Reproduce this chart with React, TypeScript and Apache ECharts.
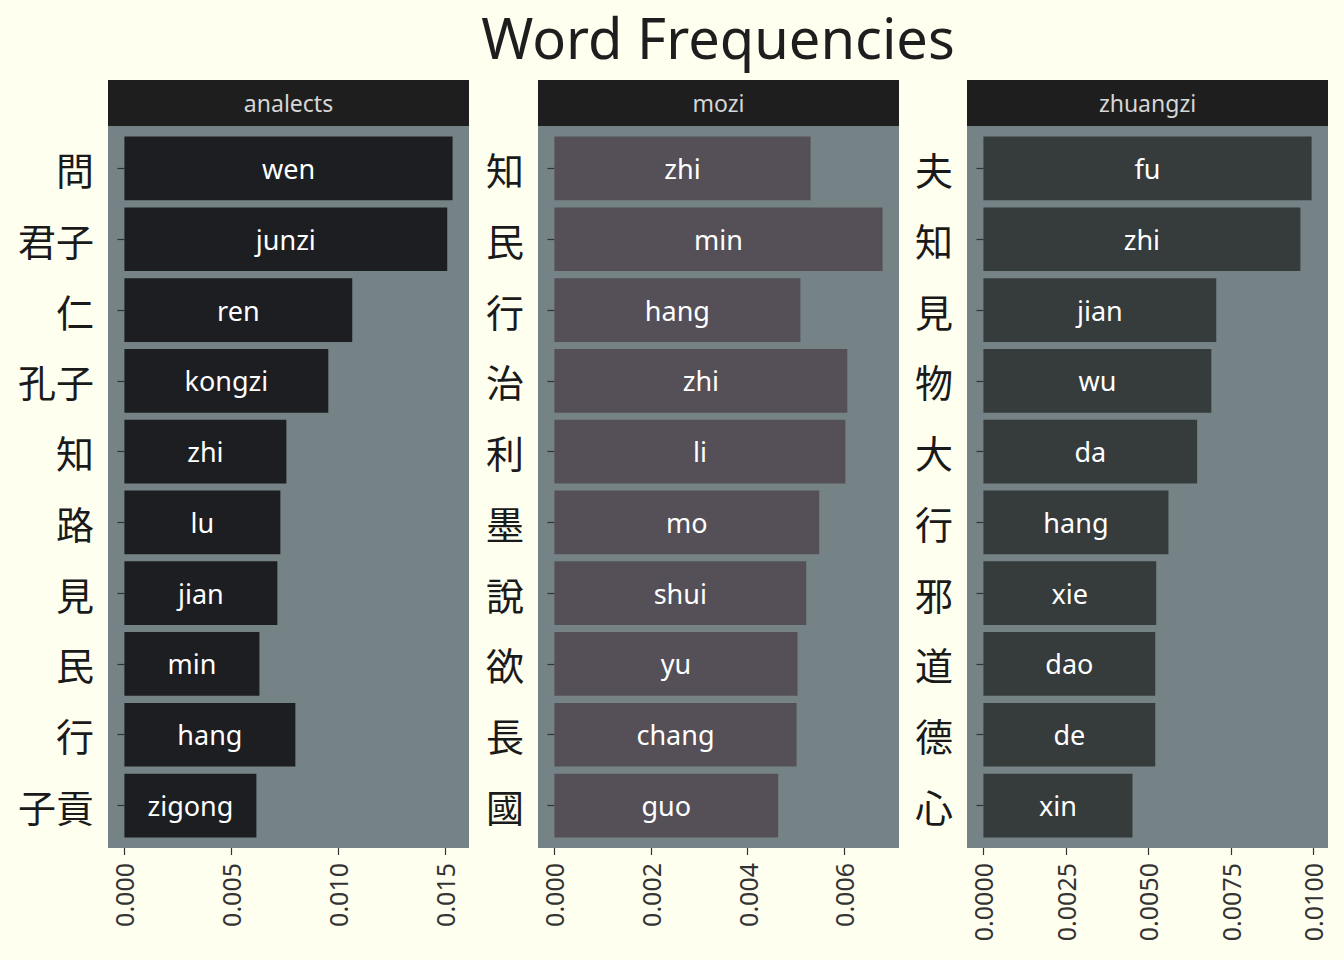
import React, { useEffect, useRef } from "react";
import * as echarts from "echarts";

// ---------- data ----------
const panels = ["analects", "mozi", "zhuangzi"];

const analectsWords = ["問", "君子", "仁", "孔子", "知", "路", "見", "民", "行", "子貢"];
const analectsPinyin = ["wen", "junzi", "ren", "kongzi", "zhi", "lu", "jian", "min", "hang", "zigong"];
const analectsFreq = [0.01534, 0.01509, 0.01065, 0.00953, 0.00757, 0.00729, 0.00715, 0.00631, 0.00799, 0.00617];

const moziWords = ["知", "民", "行", "治", "利", "墨", "說", "欲", "長", "國"];
const moziPinyin = ["zhi", "min", "hang", "zhi", "li", "mo", "shui", "yu", "chang", "guo"];
const moziFreq = [0.0053, 0.00679, 0.00509, 0.00606, 0.00602, 0.00548, 0.00521, 0.00503, 0.00501, 0.00463];

const zhuangziWords = ["夫", "知", "見", "物", "大", "行", "邪", "道", "德", "心"];
const zhuangziPinyin = ["fu", "zhi", "jian", "wu", "da", "hang", "xie", "dao", "de", "xin"];
const zhuangziFreq = [0.00995, 0.00961, 0.00706, 0.00691, 0.00648, 0.00561, 0.00524, 0.00521, 0.00521, 0.00452];

const analectsTicks = [0, 0.005, 0.01, 0.015];
const moziTicks = [0, 0.002, 0.004, 0.006];
const zhuangziTicks = [0, 0.0025, 0.005, 0.0075, 0.01];
const tickDecimals = [3, 3, 4];

const barColors = ["#1c1e21", "#555057", "#363b3c"];

// ---------- layout ----------
const PANEL_LEFT = [108, 538, 967];
const PANEL_W = 361;
const STRIP_TOP = 80;
const PANEL_TOP = 126;
const PANEL_BOTTOM = 848;
const N_CAT = 10;
const UNIT = (PANEL_BOTTOM - PANEL_TOP) / (N_CAT + 0.2);
const INSET = UNIT * 0.1;

const LATIN = "'Noto Sans', 'Noto Sans CJK JP', sans-serif";
const CJK = "'Noto Sans CJK JP', 'Noto Sans', sans-serif";

export default function App() {
  const ref = useRef<HTMLDivElement>(null);

  useEffect(() => {
    if (!ref.current) return;
    const chart = echarts.init(ref.current, undefined, { renderer: "svg" });

    const words = [analectsWords, moziWords, zhuangziWords];
    const pinyin = [analectsPinyin, moziPinyin, zhuangziPinyin];
    const freqs = [analectsFreq, moziFreq, zhuangziFreq];
    const ticks = [analectsTicks, moziTicks, zhuangziTicks];

    const grids = PANEL_LEFT.map((l) => ({
      left: l,
      width: PANEL_W,
      top: PANEL_TOP + INSET,
      height: PANEL_BOTTOM - PANEL_TOP - 2 * INSET,
      containLabel: false,
    }));

    const xAxes = PANEL_LEFT.map((_, i) => ({
      type: "value",
      gridIndex: i,
      min: (v: any) => -0.05 * v.max,
      max: (v: any) => 1.05 * v.max,
      offset: INSET,
      axisLine: { show: false },
      splitLine: { show: false },
      axisTick: {
        show: true,
        length: 7,
        customValues: ticks[i],
        lineStyle: { color: "#333333", width: 1.2 },
      },
      axisLabel: {
        customValues: ticks[i],
        rotate: 90,
        margin: 15,
        fontSize: 25,
        color: "#333333",
        fontFamily: LATIN,
        formatter: (val: number) => val.toFixed(tickDecimals[i]),
      },
    }));

    const yAxes = PANEL_LEFT.map((_, i) => ({
      type: "category",
      gridIndex: i,
      data: words[i],
      inverse: true,
      axisLine: { show: false },
      splitLine: { show: false },
      axisTick: {
        show: true,
        alignWithLabel: true,
        length: 7,
        lineStyle: { color: "#333333", width: 1.2 },
      },
      axisLabel: {
        margin: 14,
        fontSize: 38,
        color: "#1a1a1a",
        fontFamily: CJK,
      },
    }));

    const series = PANEL_LEFT.map((_, i) => ({
      type: "bar",
      xAxisIndex: i,
      yAxisIndex: i,
      barWidth: "90%",
      data: freqs[i].map((v, j) => ({ value: v, name: pinyin[i][j] })),
      itemStyle: { color: barColors[i] },
      label: {
        show: true,
        position: "inside",
        formatter: (p: any) => pinyin[i][p.dataIndex],
        color: "#ffffff",
        fontSize: 27,
        fontFamily: LATIN,
      },
    }));

    const graphics: any[] = [];
    PANEL_LEFT.forEach((l, i) => {
      graphics.push({
        type: "rect",
        z: -10,
        shape: { x: l, y: PANEL_TOP, width: PANEL_W, height: PANEL_BOTTOM - PANEL_TOP },
        style: { fill: "#758387" },
      });
      graphics.push({
        type: "rect",
        z: -10,
        shape: { x: l, y: STRIP_TOP, width: PANEL_W, height: PANEL_TOP - STRIP_TOP },
        style: { fill: "#1e1e1e" },
      });
      graphics.push({
        type: "text",
        z: 10,
        x: l + PANEL_W / 2,
        y: (STRIP_TOP + PANEL_TOP) / 2,
        style: {
          text: panels[i],
          fill: "#d6d6d6",
          fontSize: 23,
          fontFamily: LATIN,
          align: "center",
          verticalAlign: "middle",
        },
      });
    });

    graphics.push({
      type: "text",
      z: 10,
      x: 718,
      y: 37,
      style: {
        text: "Word Frequencies",
        fill: "#1e1e1e",
        fontSize: 56,
        fontFamily: LATIN,
        align: "center",
        verticalAlign: "middle",
      },
    });

    chart.setOption({
      animation: false,
      backgroundColor: "#fffff0",
      grid: grids,
      xAxis: xAxes,
      yAxis: yAxes,
      series,
      graphic: graphics,
    });

    return () => chart.dispose();
  }, []);

  return (
    <div
      ref={ref}
      style={{ position: "fixed", left: 0, top: 0, width: 1344, height: 960 }}
    />
  );
}
